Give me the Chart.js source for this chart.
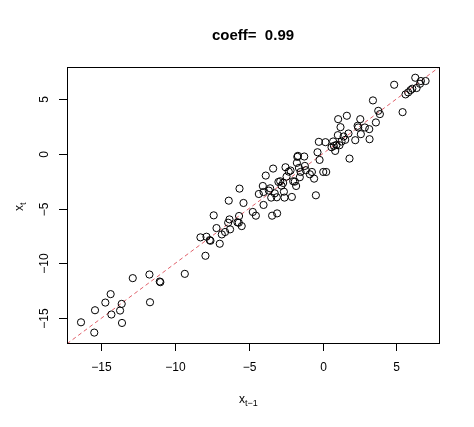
<!DOCTYPE html>
<html>
<head>
<meta charset="utf-8">
<script src="https://cdn.jsdelivr.net/npm/chart.js@4"></script>
<style>
  html, body { margin: 0; padding: 0; background: #fff; }
  #wrap { width: 474px; height: 427px; }
</style>
</head>
<body>
<div id="wrap"><canvas id="c" width="474" height="427"></canvas></div>
<script>
// x_{t-1} values
const xPrev = [-16.38,-15.48,-15.43,-14.73,-14.37,-14.32,-13.73,-13.62,-13.60,-12.87,
  -11.74,-11.70,-11.04,-11.00,-9.34,-8.28,-7.94,-7.87,-7.65,-7.60,
  -7.38,-7.19,-6.97,-6.83,-6.61,-6.40,-6.36,-6.31,-6.27,-5.77,
  -5.68,-5.66,-5.63,-5.48,-5.36,-4.73,-4.52,-4.32,-4.05,-4.00,
  -4.00,-3.85,-3.64,-3.55,-3.48,-3.42,-3.35,-3.24,-3.10,-3.08,
  -2.99,-2.87,-2.78,-2.67,-2.62,-2.58,-2.51,-2.44,-2.29,-2.17,
  -2.08,-1.99,-1.88,-1.79,-1.71,-1.67,-1.74,-1.60,-1.54,-1.49,
  -1.24,-1.20,-1.13,-0.86,-0.72,-0.57,-0.45,-0.34,-0.25,-0.20,
  0.05,0.20,0.25,0.61,0.72,0.77,0.86,0.95,1.04,1.06,
  1.15,1.22,1.29,1.43,1.54,1.65,1.76,1.83,2.22,2.38,
  2.42,2.56,2.60,2.87,3.17,3.19,3.42,3.62,3.78,3.89,
  4.86,5.43,5.63,5.81,5.97,6.09,6.29,6.38,6.61,6.67,6.99];
// x_t values
const xCur = [-15.37,-16.31,-14.27,-13.57,-12.80,-14.66,-14.30,-13.69,-15.43,-11.34,
  -11.01,-13.54,-11.65,-11.71,-10.95,-7.62,-9.30,-7.56,-7.87,-7.93,
  -5.61,-6.77,-8.20,-7.35,-7.13,-6.28,-4.27,-5.98,-6.89,-6.25,
  -6.28,-5.67,-3.17,-6.59,-4.48,-5.30,-5.64,-3.66,-2.93,-4.66,
  -3.48,-1.98,-3.35,-3.14,-3.99,-5.64,-1.34,-3.60,-3.96,-5.43,
  -2.56,-2.50,-2.90,-2.65,-3.45,-3.99,-1.22,-2.07,-1.62,-1.52,
  -3.93,-2.50,-2.53,-2.93,-0.27,-0.18,-0.82,-1.28,-2.13,-1.65,
  -0.24,-1.10,-1.49,-1.86,-1.65,-2.26,-3.78,0.15,1.10,-0.55,
  -1.65,1.07,-1.65,0.61,1.13,0.73,0.27,0.82,1.71,3.17,
  0.79,2.44,1.13,1.59,1.28,3.48,1.86,-0.43,1.25,2.56,
  2.41,3.17,1.80,2.41,2.26,1.34,4.88,2.87,3.93,3.63,
  6.31,3.81,5.43,5.61,5.82,5.95,6.95,6.01,6.40,6.65,6.65];
const tickVals = [-15, -10, -5, 0, 5];
const titleText = 'coeff=  0.99';

const FONT = '"Liberation Sans", Arial, sans-serif';

const rAxes = {
  id: 'rAxes',
  afterDraw(chart) {
    const ctx = chart.ctx;
    const a = chart.chartArea;
    const xs = chart.scales.x, ys = chart.scales.y;
    ctx.save();
    ctx.strokeStyle = '#000';
    ctx.lineWidth = 1;
    ctx.strokeRect(a.left + 0.5, a.top + 0.5, a.right - a.left, a.bottom - a.top);
    ctx.fillStyle = '#000';
    ctx.font = '12px ' + FONT;
    tickVals.forEach(v => {
      const px = Math.round(xs.getPixelForValue(v)) + 0.5;
      ctx.beginPath(); ctx.moveTo(px, a.bottom); ctx.lineTo(px, a.bottom + 8); ctx.stroke();
      ctx.textAlign = 'center'; ctx.textBaseline = 'middle';
      ctx.fillText(String(v).replace('-', '\u2212'), px, a.bottom + 25);
      const py = Math.round(ys.getPixelForValue(v)) + 0.5;
      ctx.beginPath(); ctx.moveTo(a.left, py); ctx.lineTo(a.left - 8, py); ctx.stroke();
      ctx.save();
      ctx.translate(a.left - 22, py);
      ctx.rotate(-Math.PI / 2);
      ctx.fillText(String(v).replace('-', '\u2212'), 0, 0);
      ctx.restore();
    });
    // title
    ctx.font = 'bold 15px ' + FONT;
    ctx.textAlign = 'center';
    ctx.fillText(titleText, (a.left + a.right) / 2, 36);
    // x label
    const cx = (a.left + a.right) / 2;
    ctx.font = '12px ' + FONT;
    ctx.textAlign = 'right';
    ctx.fillText('x', cx - 8, 400);
    ctx.font = '9px ' + FONT;
    ctx.textAlign = 'left';
    ctx.fillText('t\u22121', cx - 8, 404);
    // y label
    ctx.save();
    ctx.translate(20, (a.top + a.bottom) / 2);
    ctx.rotate(-Math.PI / 2);
    ctx.font = '12px ' + FONT;
    ctx.textAlign = 'right';
    ctx.fillText('x', 0, 0);
    ctx.font = '9px ' + FONT;
    ctx.textAlign = 'left';
    ctx.fillText('t', 0, 4);
    ctx.restore();
    ctx.restore();
  }
};

new Chart(document.getElementById('c'), {
  type: 'scatter',
  data: {
    datasets: [
      {
        data: xPrev.map((v, i) => ({ x: v, y: xCur[i] })),
        pointStyle: 'circle',
        pointRadius: 3.6,
        pointBorderWidth: 1,
        pointBorderColor: '#000',
        pointBackgroundColor: 'rgba(0,0,0,0)'
      },
      {
        type: 'line',
        data: [{ x: -20, y: -20 }, { x: 10, y: 10 }],
        borderColor: '#e0606a',
        borderWidth: 1,
        borderDash: [4, 3],
        pointRadius: 0,
        fill: false
      }
    ]
  },
  options: {
    responsive: false,
    animation: false,
    events: [],
    layout: { padding: { left: 67, right: 35, top: 67, bottom: 84 } },
    plugins: { legend: { display: false }, tooltip: { enabled: false } },
    scales: {
      x: { type: 'linear', min: -17.33, max: 7.9, display: false },
      y: { type: 'linear', min: -17.26, max: 7.93, display: false }
    }
  },
  plugins: [rAxes]
});
</script>
</body>
</html>
